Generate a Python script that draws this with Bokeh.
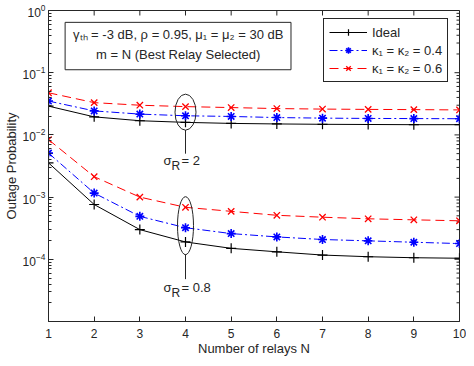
import numpy as np
from bokeh.plotting import figure
from bokeh.models import (FixedTicker, Legend, LegendItem, Label, BoxAnnotation, Range1d)
from bokeh.embed import file_html
from bokeh.resources import INLINE
from bokeh.core.properties import value

# ---------------- data ----------------
N = [1, 2, 3, 4, 5, 6, 7, 8, 9, 10]

# sigma_R = 2
ideal_s2 = [0.029, 0.0195, 0.0169, 0.0159, 0.0153, 0.0150, 0.0148, 0.0147, 0.0146, 0.0146]
k04_s2 = [0.035, 0.0243, 0.0216, 0.0203, 0.0198, 0.0190, 0.0186, 0.0184, 0.0183, 0.0182]
k06_s2 = [0.0476, 0.033, 0.030, 0.0285, 0.0275, 0.0265, 0.0260, 0.0257, 0.0255, 0.0252]

# sigma_R = 0.8
ideal_s08 = [0.00355, 0.00076, 0.00030, 0.00019, 0.00015, 0.000132, 0.000117, 0.000110, 0.000106, 0.000104]
k04_s08 = [0.0051, 0.00116, 0.00049, 0.000322, 0.000259, 0.000229, 0.000208, 0.000198, 0.000188, 0.000179]
k06_s08 = [0.0084, 0.00213, 0.00100, 0.000685, 0.00059, 0.00051, 0.000475, 0.000448, 0.000431, 0.000416]

x_ticks = [1, 2, 3, 4, 5, 6, 7, 8, 9, 10]
y_major = [1e-4, 1e-3, 1e-2, 1e-1, 1e0]
y_minor = [m * 10.0 ** e for e in range(-5, 0) for m in range(2, 10)]

legend_labels = ["Ideal", "κ₁ = κ₂ = 0.4", "κ₁ = κ₂ = 0.6"]
textbox_line1 = "γₜₕ = -3 dB, ρ = 0.95, μ₁ = μ₂ = 30 dB"
textbox_line2 = "m = N (Best Relay Selected)"

X_MIN, X_MAX = 1, 10
Y_MIN, Y_MAX = 1e-5, 1

# ---------------- figure ----------------
FONT = "Liberation Sans"
TXT = "#262626"

p = figure(width=466, height=358, y_axis_type="log",
           x_range=Range1d(X_MIN, X_MAX), y_range=Range1d(Y_MIN, Y_MAX),
           output_backend="svg", toolbar_location=None,
           min_border_left=0, min_border_right=7, min_border_top=10, min_border_bottom=0)
p.xgrid.visible = False
p.ygrid.visible = False
p.outline_line_color = TXT
p.outline_line_alpha = 1
p.background_fill_color = "white"
p.border_fill_color = "white"

for ax in (p.xaxis[0], p.yaxis[0]):
    ax.major_tick_in = 5
    ax.major_tick_out = 0
    ax.minor_tick_in = 3
    ax.minor_tick_out = 0
    ax.axis_line_color = TXT
    ax.major_tick_line_color = TXT
    ax.minor_tick_line_color = TXT
    ax.major_label_text_font = FONT
    ax.major_label_text_font_size = "12px"
    ax.major_label_text_color = TXT
    ax.axis_label_text_font = FONT
    ax.axis_label_text_font_size = "13px"
    ax.axis_label_text_font_style = "normal"
    ax.axis_label_text_color = TXT

p.xaxis.ticker = FixedTicker(ticks=x_ticks, minor_ticks=[])
p.yaxis.ticker = FixedTicker(ticks=y_major, minor_ticks=y_minor)
p.xaxis.axis_label = "Number of relays N"
p.yaxis.axis_label = "Outage Probability"
p.xaxis.major_label_standoff = 7
p.xaxis.axis_label_standoff = 0
p.yaxis.major_label_standoff = 3
p.yaxis.axis_label_standoff = 1

# inward ticks on the top and right edges of the box
p.ray(x=x_ticks, y=[Y_MAX] * len(x_ticks), length=5, angle=-np.pi / 2,
      length_units="screen", line_color=TXT, line_width=1)
p.ray(x=[X_MAX] * len(y_major), y=y_major, length=5, angle=np.pi,
      length_units="screen", line_color=TXT, line_width=1)
p.ray(x=[X_MAX] * len(y_minor), y=y_minor, length=3, angle=np.pi,
      length_units="screen", line_color=TXT, line_width=1)

# ---------------- series ----------------
BLACK = "black"
BLUE = "#0000ff"
RED = "#ff0000"

def series(y, color, dash, marker, size, lw_m):
    l = p.line(N, y, line_color=color, line_width=1, line_dash=dash)
    s = p.scatter(N, y, marker=marker, size=size, line_color=color,
                  fill_color=color, line_width=lw_m)
    return l, s

l1, s1 = series(ideal_s2, BLACK, "solid", "cross", 10, 1.2)
series(ideal_s08, BLACK, "solid", "cross", 10, 1.2)
l2, s2 = series(k04_s2, BLUE, "8 3 2 3", "asterisk", 9, 1.6)
series(k04_s08, BLUE, "8 3 2 3", "asterisk", 9, 1.6)
l3, s3 = series(k06_s2, RED, "9 5", "x", 9, 1.3)
series(k06_s08, RED, "9 5", "x", 9, 1.3)

legend = Legend(items=[
    LegendItem(label=legend_labels[0], renderers=[l1, s1]),
    LegendItem(label=legend_labels[1], renderers=[l2, s2]),
    LegendItem(label=legend_labels[2], renderers=[l3, s3]),
], location=(275, 239))
legend.glyph_width = 38
legend.glyph_height = 16
legend.label_height = 16
legend.label_standoff = 5
legend.padding = 5
legend.spacing = 2
legend.margin = 0
legend.border_line_color = TXT
legend.border_line_alpha = 1
legend.background_fill_alpha = 1
legend.label_text_font = FONT
legend.label_text_font_size = "13px"
legend.label_text_color = TXT
p.add_layout(legend)

# ---------------- annotations ----------------
box = BoxAnnotation(left=1.364, right=6.31, top=0.645, bottom=0.1116,
                    fill_color="white", fill_alpha=1, line_color=TXT,
                    line_alpha=1, line_width=1)
p.add_layout(box)
for txt, yy in [(textbox_line1, 0.416), (textbox_line2, 0.193)]:
    p.add_layout(Label(x=3.84, y=yy, text=txt, text_align="center",
                       text_baseline="middle", text_font=FONT,
                       text_font_size="13px", text_color=TXT))

p.ellipse(x=[4], y=[0.0232], width=21, height=36, width_units="screen",
          height_units="screen", fill_alpha=0, line_color=TXT, line_width=1)
p.ellipse(x=[4], y=[3.47e-4], width=16, height=58, width_units="screen",
          height_units="screen", fill_alpha=0, line_color=TXT, line_width=1)
p.segment(x0=[4, 4], y0=[0.0120, 1.2e-4], x1=[4, 4], y1=[0.00499, 4.8e-5],
          line_color=TXT, line_width=1)

for yy, rest in [(0.00387, "= 2"), (3.47e-5, "= 0.8")]:
    p.add_layout(Label(x=4, y=yy, text="σ", x_offset=-22, text_baseline="middle",
                       text_font=FONT, text_font_size="13px", text_color=TXT))
    p.add_layout(Label(x=4, y=yy, text="R", x_offset=-14, y_offset=-5,
                       text_baseline="middle", text_font=FONT,
                       text_font_size="12px", text_color=TXT))
    p.add_layout(Label(x=4, y=yy, text=rest, x_offset=-4, text_baseline="middle",
                       text_font=FONT, text_font_size="13px", text_color=TXT))

open("out.html", "w").write(file_html(p, INLINE))
